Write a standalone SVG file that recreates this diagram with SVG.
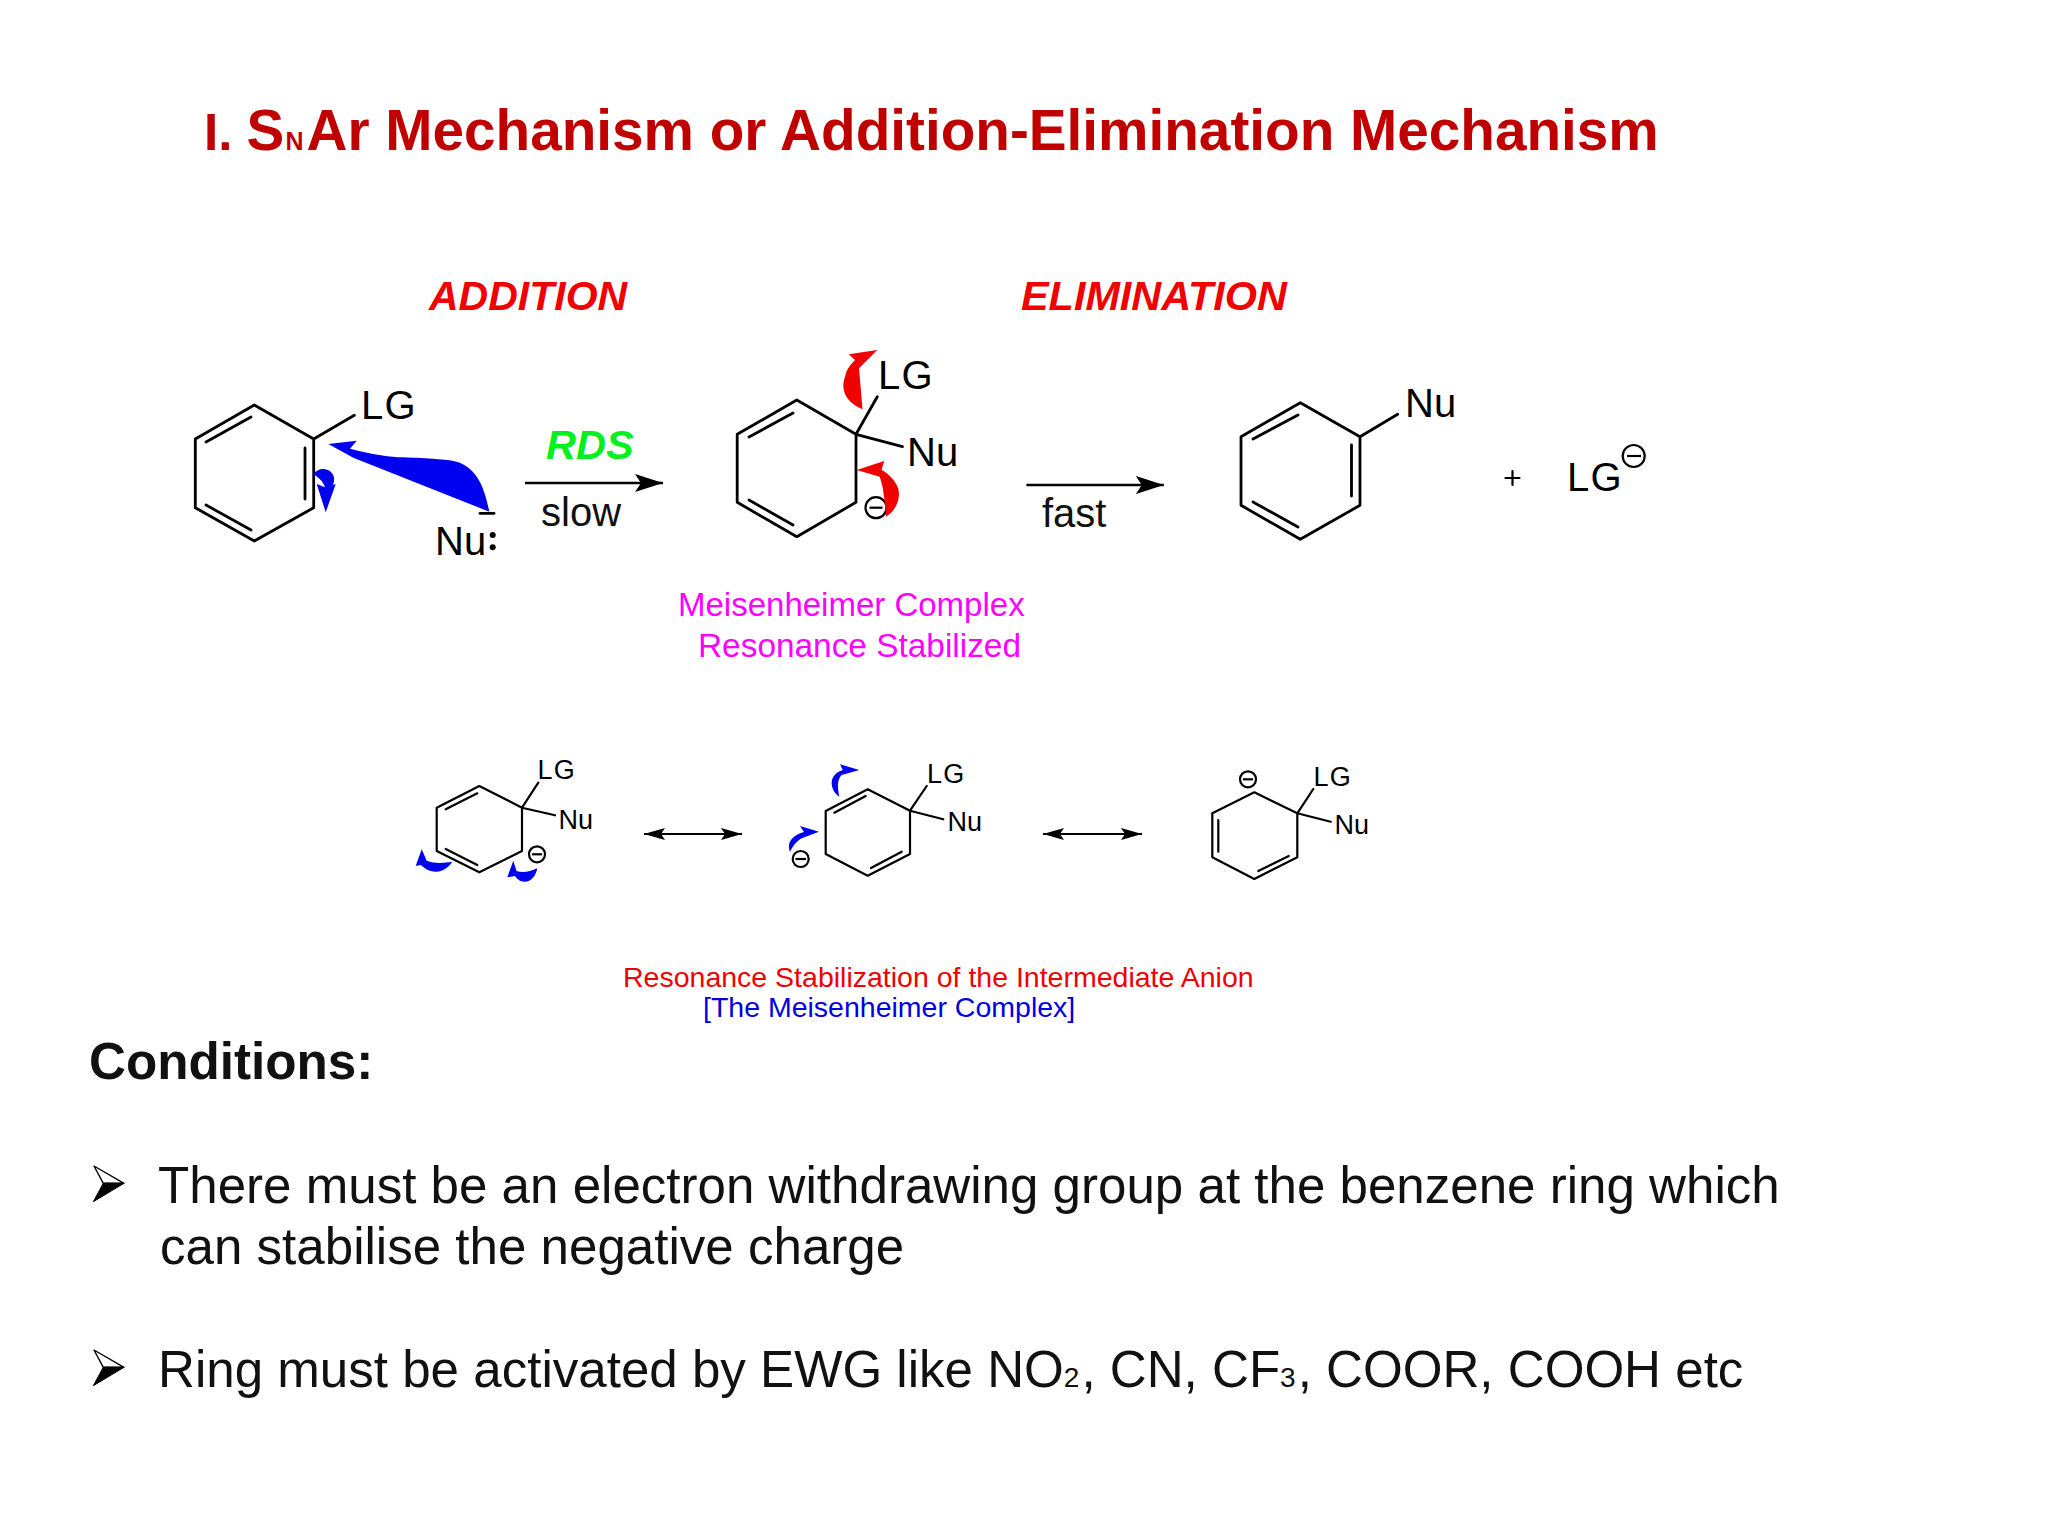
<svg xmlns="http://www.w3.org/2000/svg" width="2048" height="1536" viewBox="0 0 2048 1536">
<style>
text{font-family:"Liberation Sans",Arial,sans-serif;white-space:pre}
.b{fill:none;stroke:#000;stroke-width:2.8;stroke-linecap:round;stroke-linejoin:round}
.s{fill:none;stroke:#000;stroke-width:2.2;stroke-linecap:round;stroke-linejoin:round}
.l{font-size:40px;fill:#000}
.m{font-size:27px;fill:#000}
.g{letter-spacing:1.2px}
.c{fill:none;stroke:#000;stroke-width:2.2}
.blue{fill:#0000f0}.red{fill:#f00000}
.body{font-size:51.1px;fill:#111}
</style>
<defs>
<marker id="ah" markerUnits="userSpaceOnUse" markerWidth="30" markerHeight="20" refX="28" refY="9" orient="auto-start-reverse" viewBox="0 0 30 18"><path d="M0 0L28 9L0 18L6 9Z" fill="#000"/></marker>
<marker id="ah2" markerUnits="userSpaceOnUse" markerWidth="22" markerHeight="14" refX="21" refY="6" orient="auto-start-reverse" viewBox="0 0 22 12"><path d="M0 0L21 6L0 12L4 6Z" fill="#000"/></marker>
<g id="bullet"><path d="M94 1166L124 1183.3H103.3Z" fill="#fff" stroke="#000" stroke-width="1.4" stroke-linejoin="round"/><path d="M93.3 1201.7L124 1183.3H103.3Z" fill="#000" stroke="#000" stroke-width="1" stroke-linejoin="round"/></g>
</defs>
<rect width="2048" height="1536" fill="#fff"/>
<g id="title" font-weight="700" fill="#c00000">
<text x="204" y="149.5" font-size="51">I.</text>
<text x="246.5" y="149.5" font-size="56.5">S</text>
<text x="285.5" y="149.5" font-size="25">N</text>
<text x="306.5" y="149.5" font-size="56.7">Ar Mechanism or Addition-Elimination Mechanism</text>
</g>
<g id="headers">
<text x="429" y="310" font-size="41" font-weight="700" font-style="italic" fill="#f00000">ADDITION</text>
<text x="1021" y="310" font-size="41.4" font-weight="700" font-style="italic" fill="#f00000">ELIMINATION</text>
</g>
<g id="reactant">
<path class="b" d="M254.3 405L313.7 439V507.7L254.3 541L195.3 507.7V439ZM313.7 439L354.3 415.3M305 448V499M206 442L251 417M206 505L251 530"/>
<text class="l g" x="361" y="419">LG</text>
<text class="l" x="435" y="555">Nu</text>
<path class="b" d="M480 513.3H494"/>
<circle cx="492.7" cy="535" r="3"/><circle cx="492.7" cy="547.3" r="3"/>
<path class="blue" d="M328.3 444L356.7 440.7L350 448.7C375 455 390 457 403 457.3C430 458.5 445 459 456.7 461.7C478 468 485 490 489.3 511.7L353.3 457.7Z"/>
<path class="blue" d="M313.3 474.3C316 470 322 468 326 469.5C333 471 336 478 333 485L335.7 484L325.7 512.3L316.7 484L325 487.3C323 481 318 477 313.3 474.3Z"/>
</g>
<g id="connector-labels-1">
<text x="546" y="459" font-size="41.5" font-weight="700" font-style="italic" fill="#00f020">RDS</text>
<text x="541" y="526" font-size="40" fill="#111">slow</text>
</g>
<g id="meisenheimer">
<path class="b" d="M796.8 400L856 434.3V502.3L796.8 536.7L737.2 502.3V434.3ZM856 434.3L877.3 396.7M856 434.3L902.5 446.7M749 437L793 413M749 500L793 525"/>
<text class="l g" x="878" y="389">LG</text>
<text class="l" x="907" y="465.5">Nu</text>
<circle class="c" cx="876" cy="507.7" r="10.5"/><path class="c" d="M869.5 507.7H882.5"/>
<path class="red" d="M877.3 350L848.8 354.3L855 360C849 366 846 371 845.3 376C842 384 843 392 847.4 398.3C851 403 857 407 862.5 409.3L859 368.3Z"/>
<path class="red" d="M856.7 470L884.2 461L881.5 470C888 473 895 480 898 488C901 497 897 510 886 516.7C885 505 884 495 882.5 486.7L879.8 476.7Z"/>
</g>
<g id="fast-label"><text x="1042" y="527" font-size="40" fill="#111">fast</text></g>
<g id="product">
<path class="b" d="M1300.3 402.7L1360 436.7V505.3L1300.3 539.3L1241 505.3V436.7ZM1360 436.7L1397.7 414.3M1351.5 445V496M1253 439L1298 415M1253 502L1298 527"/>
<text class="l" x="1405" y="417">Nu</text>
</g>
<g id="plus"><path class="s" d="M1505.5 478H1519.5M1512.5 471V485"/></g>
<g id="leaving-group">
<text class="l g" x="1567" y="491">LG</text>
<circle class="c" cx="1633.7" cy="456" r="11"/><path class="c" d="M1627 456H1641"/>
</g>
<g id="labels">
<text x="678" y="616" font-size="33" fill="#ff00ff">Meisenheimer Complex</text>
<text x="698" y="657" font-size="33.4" fill="#ff00ff">Resonance Stabilized</text>
</g>
<g id="res1">
<path class="s" d="M479.3 786L522 807.7V851L479.3 872.3L436.7 851V807.7ZM522 807.7L538.3 782.7M522 807.7L555 815.3M445.7 809.3L477.3 793.3M445.7 849L477.3 865"/>
<text class="m g" x="537.5" y="779">LG</text>
<text class="m" x="558.5" y="828.5">Nu</text>
<circle class="c" cx="537" cy="854.3" r="8"/><path class="c" d="M532 854.3H542"/>
<path class="blue" d="M415.7 866L421.7 849.3L426.7 860.7C435 864 445 863 452.3 861.7C448 868 442 871.7 436.7 871.7C431 872 427 870 425 868.3L420.7 865Z"/>
<path class="blue" d="M507.3 877.3L513.3 860.7L516.5 871C522 873 530 872 537.3 868.3C536 876 531 881.7 525 881.7C520 881.7 517 879 515 876Z"/>
</g>
<g id="res2">
<path class="s" d="M867.7 789.3L910 810.7V854L867.7 875.7L825.7 854V811ZM910 810.7L926.7 786M910 810.7L943.3 819.3M834.3 812.7L865.7 796M871 868L901.7 851.7"/>
<text class="m g" x="927" y="782.5">LG</text>
<text class="m" x="947.5" y="830.5">Nu</text>
<circle class="c" cx="800.7" cy="859" r="8"/><path class="c" d="M795.5 859H806"/>
<path class="blue" d="M859.3 770L840 764.3L842.7 770C836 772 832 777 831.7 782C831.5 788 834 793 839.3 796.7C838 790 837.5 785 838.3 781.7C839 778.5 840.5 776 841.7 775Z"/>
<path class="blue" d="M819 831.7L800 826L804 832C795 834 789.5 840 789 845C788.8 848 789.3 850 790 852C792.5 846 797 841 801.7 838.3Z"/>
</g>
<g id="res3">
<path class="s" d="M1254.3 792.3L1297.3 813.3V857.3L1254.3 879L1212.3 857.3V813.3ZM1297.3 813.3L1313.3 789M1297.3 813.3L1330.7 821.7M1218.3 820V851.7M1258.3 871L1288.7 856"/>
<text class="m g" x="1313.5" y="785.5">LG</text>
<text class="m" x="1334.5" y="833.5">Nu</text>
<circle class="c" cx="1248" cy="779.3" r="8"/><path class="c" d="M1243 779.3H1253"/>
</g>
<g id="connectors">
<path d="M525 483H663" stroke="#000" stroke-width="2.4" fill="none" marker-end="url(#ah)"/>
<path d="M1026.4 485H1163.8" stroke="#000" stroke-width="2.4" fill="none" marker-end="url(#ah)"/>
<path d="M644 834H742" stroke="#000" stroke-width="2" fill="none" marker-start="url(#ah2)" marker-end="url(#ah2)"/>
<path d="M1043 834H1142" stroke="#000" stroke-width="2" fill="none" marker-start="url(#ah2)" marker-end="url(#ah2)"/>
</g>
<g id="caption">
<text x="623" y="987" font-size="28.5" fill="#f00000">Resonance Stabilization of the Intermediate Anion</text>
<text x="703" y="1017" font-size="28.5" fill="#0000e0">[The Meisenheimer Complex]</text>
</g>
<g id="conditions">
<text x="89" y="1079" font-size="51.2" font-weight="700" fill="#111">Conditions:</text>
<use href="#bullet"/>
<text class="body" x="158" y="1203">There must be an electron withdrawing group at the benzene ring which</text>
<text class="body" x="160" y="1264">can stabilise the negative charge</text>
<use href="#bullet" y="184"/>
<text class="body" x="158" y="1387">Ring must be activated by EWG like NO<tspan font-size="28">2</tspan><tspan dx="2">, CN, CF</tspan><tspan font-size="28">3</tspan><tspan dx="2">, COOR, COOH etc</tspan></text>
</g>
</svg>
